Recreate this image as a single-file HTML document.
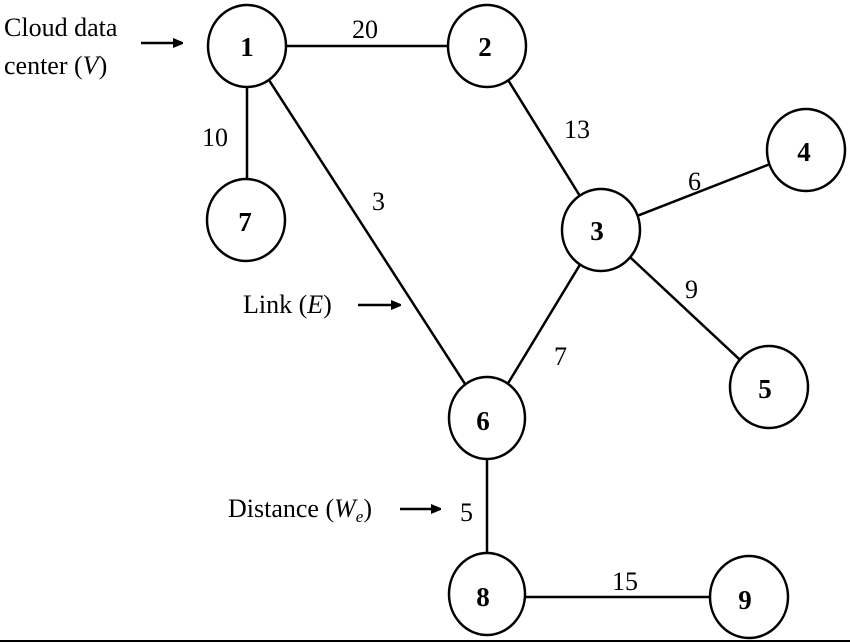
<!DOCTYPE html>
<html><head><meta charset="utf-8"><style>
html,body{margin:0;padding:0;background:#fff;}
svg{display:block;}
text{font-family:"Liberation Serif",serif;fill:#000;}
.n{font-weight:bold;font-size:27px;text-anchor:middle;}
.l{font-size:26px;}
</style></head><body>
<svg width="850" height="643" viewBox="0 0 850 643" xmlns="http://www.w3.org/2000/svg">
<defs><marker id="a" markerWidth="10" markerHeight="10" refX="9" refY="5" orient="auto" markerUnits="userSpaceOnUse"><path d="M0,0 L12,5 L0,10 z" fill="#000"/></marker></defs>
<g stroke="#000" stroke-width="2.5" fill="none">
<line x1="247" y1="46" x2="487" y2="46"/>
<line x1="247" y1="46" x2="247" y2="220"/>
<line x1="247" y1="46" x2="487" y2="418"/>
<line x1="487" y1="46" x2="601" y2="230"/>
<line x1="601" y1="230" x2="806" y2="150"/>
<line x1="601" y1="230" x2="769" y2="387"/>
<line x1="601" y1="230" x2="487" y2="418"/>
<line x1="487" y1="418" x2="487" y2="594"/>
<line x1="487" y1="597" x2="749" y2="597"/>
<line x1="0" y1="641" x2="850" y2="641" stroke-width="2"/>
<line x1="141" y1="43" x2="182" y2="43" marker-end="url(#a)"/>
<line x1="358" y1="305" x2="400" y2="305" marker-end="url(#a)"/>
<line x1="400" y1="509" x2="440" y2="509" marker-end="url(#a)"/>
</g>
<g stroke="#000" stroke-width="2.5" fill="#fff">
<ellipse cx="247" cy="46" rx="39" ry="41"/>
<ellipse cx="487" cy="46" rx="39" ry="41"/>
<ellipse cx="246" cy="220" rx="39" ry="41"/>
<ellipse cx="601" cy="230" rx="39" ry="41"/>
<ellipse cx="806" cy="150" rx="39" ry="41"/>
<ellipse cx="769" cy="387" rx="39" ry="41"/>
<ellipse cx="487" cy="418" rx="38" ry="41"/>
<ellipse cx="487" cy="594" rx="38" ry="41"/>
<ellipse cx="749" cy="597" rx="39" ry="41"/>
</g>
<text class="n" x="247" y="56">1</text>
<text class="n" x="485" y="56">2</text>
<text class="n" x="245" y="231">7</text>
<text class="n" x="597" y="240">3</text>
<text class="n" x="804" y="161">4</text>
<text class="n" x="765" y="398">5</text>
<text class="n" x="483" y="430">6</text>
<text class="n" x="483" y="606">8</text>
<text class="n" x="745" y="609">9</text>
<text class="l" x="352" y="38">20</text>
<text class="l" x="202" y="146">10</text>
<text class="l" x="564" y="138">13</text>
<text class="l" x="372" y="210">3</text>
<text class="l" x="688" y="190">6</text>
<text class="l" x="685" y="298">9</text>
<text class="l" x="554" y="365">7</text>
<text class="l" x="460" y="521">5</text>
<text class="l" x="612" y="590">15</text>
<text class="l" x="4" y="36">Cloud data</text>
<text class="l" x="4" y="74">center (<tspan font-style="italic">V</tspan>)</text>
<text class="l" x="243" y="313">Link (<tspan font-style="italic">E</tspan>)</text>
<text class="l" x="228" y="517">Distance (<tspan font-style="italic">W<tspan font-size="17" dy="5">e</tspan></tspan><tspan dy="-5">)</tspan></text>
</svg>
</body></html>
